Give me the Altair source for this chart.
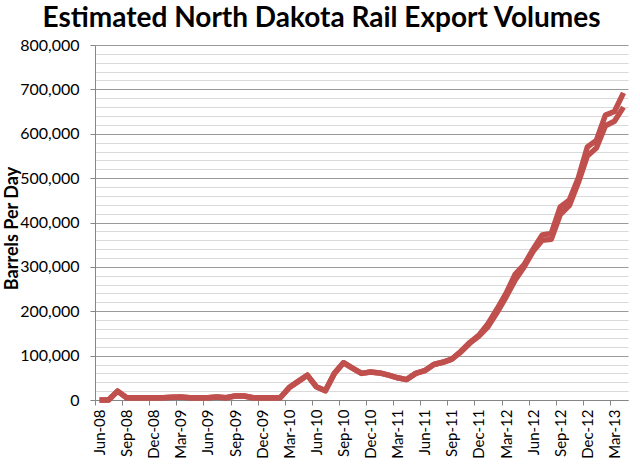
import altair as alt
import pandas as pd

months = [
    "Jun-08", "Jul-08", "Aug-08", "Sep-08", "Oct-08", "Nov-08", "Dec-08",
    "Jan-09", "Feb-09", "Mar-09", "Apr-09", "May-09", "Jun-09", "Jul-09", "Aug-09", "Sep-09", "Oct-09", "Nov-09", "Dec-09",
    "Jan-10", "Feb-10", "Mar-10", "Apr-10", "May-10", "Jun-10", "Jul-10", "Aug-10", "Sep-10", "Oct-10", "Nov-10", "Dec-10",
    "Jan-11", "Feb-11", "Mar-11", "Apr-11", "May-11", "Jun-11", "Jul-11", "Aug-11", "Sep-11", "Oct-11", "Nov-11", "Dec-11",
    "Jan-12", "Feb-12", "Mar-12", "Apr-12", "May-12", "Jun-12", "Jul-12", "Aug-12", "Sep-12", "Oct-12", "Nov-12", "Dec-12",
    "Jan-13", "Feb-13", "Mar-13", "Apr-13",
]

high_est = [
    0, 0, 20000, 5000, 5000, 5000, 5000,
    5000, 6000, 7000, 5000, 5000, 5000, 7000, 5000, 9000, 9000, 5000, 5000,
    5000, 5000, 28000, 42000, 56000, 30000, 21000, 60000, 84000, 72000, 60000, 63000,
    61000, 56000, 50000, 46000, 60000, 66000, 80000, 85000, 92000, 110000, 130000, 146000,
    172000, 205000, 240000, 283000, 305000, 340000, 372000, 375000, 435000, 450000, 500000, 570000,
    585000, 642000, 650000, 692000,
]

low_est = [
    0, 0, 20000, 5000, 5000, 5000, 5000,
    5000, 6000, 7000, 5000, 5000, 5000, 7000, 5000, 9000, 9000, 5000, 5000,
    5000, 5000, 28000, 42000, 56000, 30000, 21000, 60000, 84000, 72000, 60000, 63000,
    61000, 56000, 50000, 46000, 60000, 66000, 80000, 85000, 92000, 108000, 128000, 144000,
    165000, 197000, 232000, 270000, 300000, 335000, 360000, 362000, 418000, 438000, 490000, 550000,
    568000, 618000, 628000, 660000,
]

tick_months = months[::3]
y_ticks = list(range(0, 800001, 20000))

rows = []
for m, a, b in zip(months, high_est, low_est):
    rows.append({"month": m, "series": "High", "bpd": a})
    rows.append({"month": m, "series": "Low", "bpd": b})
df = pd.DataFrame(rows)

step = 533 / len(months)

chart = alt.Chart(df).mark_line(strokeWidth=5.5, color="#C0504D", strokeJoin="round").encode(
    x=alt.X(
        "month:N",
        sort=months,
        scale=alt.Scale(type="point", padding=0.5),
        axis=alt.Axis(
            values=tick_months,
            title=None,
            labelAngle=270,
            labelAlign="right",
            labelBaseline="middle",
            tickOffset=-step / 2,
            labelOffset=step / 2,
            tickSize=5,
            tickColor="#868686",
            domainColor="#868686",
            labelFont="Lato",
            labelFontSize=15,
            labelColor="#000000",
            labelPadding=4,
            grid=False,
        ),
    ),
    y=alt.Y(
        "bpd:Q",
        scale=alt.Scale(domain=[0, 800000], nice=False),
        axis=alt.Axis(
            values=y_ticks,
            title="Barrels Per Day",
            titleFont="Lato",
            titleFontSize=18,
            titleFontWeight="bold",
            titleColor="#000000",
            titleAngle=270,
            titleAlign="center",
            titleBaseline="middle",
            titleX=-83,
            titleY=183,
            labelExpr="datum.value % 100000 === 0 ? format(datum.value, ',') : ''",
            labelFont="Lato",
            labelFontSize=16,
            labelColor="#000000",
            labelPadding=11,
            tickSize=5,
            tickColor={"condition": {"test": "datum.value % 100000 === 0", "value": "#868686"}, "value": "transparent"},
            domainColor="#868686",
            grid=True,
            gridColor={"condition": {"test": "datum.value % 100000 === 0", "value": "#9a9a9a"}, "value": "#d9d9d9"},
            gridWidth=1,
        ),
    ),
    detail="series:N",
).properties(
    width=533,
    height=355,
    title=alt.TitleParams(
        "Estimated North Dakota Rail Export Volumes",
        font="Lato",
        fontSize=28,
        fontWeight="bold",
        color="#000000",
        anchor="middle",
        dx=-40,
        offset=4,
    ),
).configure(
    autosize=alt.AutoSizeParams(type="none"),
    padding={"left": 95, "top": 45, "right": 12, "bottom": 72},
    background="white",
).configure_view(stroke=None)

chart.save("out.html", embed_options={"renderer": "svg", "actions": False})
